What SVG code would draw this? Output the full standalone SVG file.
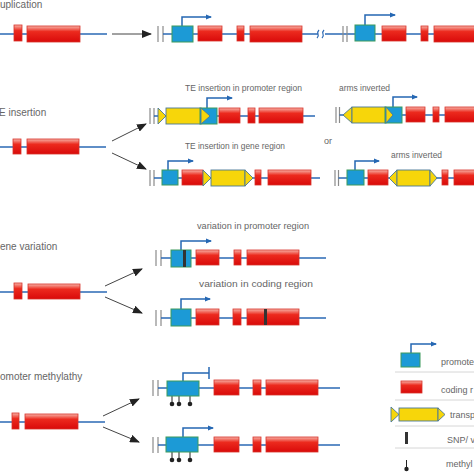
<svg xmlns="http://www.w3.org/2000/svg" width="474" height="474" viewBox="0 0 474 474">
<defs>
<linearGradient id="rg" x1="0" y1="0" x2="0" y2="1">
<stop offset="0" stop-color="#f7b3a8"/>
<stop offset="0.35" stop-color="#ec2a1e"/>
<stop offset="1" stop-color="#d90a0a"/>
</linearGradient>
<marker id="pa" viewBox="0 0 6 6" refX="5" refY="3" markerWidth="6" markerHeight="6" orient="auto" markerUnits="userSpaceOnUse"><path d="M0,0.5 L6,3 L0,5.5 Z" fill="#2567b3"/></marker>
<marker id="ba" viewBox="0 0 10 8" refX="9" refY="4" markerWidth="10" markerHeight="8" orient="auto" markerUnits="userSpaceOnUse"><path d="M0,0 L10,4 L0,8 Z" fill="#222"/></marker>
</defs>
<style>
.t{font-family:"Liberation Sans",Arial,sans-serif;fill:#666;}
.h{font-size:10px;}
.l{font-size:9px;}
.ln{stroke:#2a68b4;stroke-width:1.5;fill:none;}
.r{fill:url(#rg);stroke:#d8322a;stroke-width:0.8;}
.p{fill:#1c9ad6;stroke:#3c9a5c;stroke-width:1;}
.y{fill:#f7d60a;stroke:#4a7896;stroke-width:0.9;}
.b{stroke:#8a8a8a;stroke-width:1.2;}
.pr{stroke:#2567b3;stroke-width:1.5;fill:none;}
.ar{stroke:#444;stroke-width:1;fill:none;}
.sn{fill:#333;}
.sep{stroke:#ccc;stroke-width:0.8;}
</style>

<g id="titles">
<text class="t h" x="0" y="8">uplication</text>
<text class="t h" x="-1" y="116">E insertion</text>
<text class="t h" x="0" y="250">ene variation</text>
<text class="t h" x="0" y="380">omoter methylathy</text>
</g>

<g id="connectors">
<line class="ar" x1="112" y1="34" x2="151" y2="34" marker-end="url(#ba)"/>
<line class="ar" x1="112" y1="141" x2="146" y2="124" marker-end="url(#ba)"/>
<line class="ar" x1="112" y1="153" x2="146" y2="169" marker-end="url(#ba)"/>
<line class="ar" x1="105" y1="286" x2="142" y2="269" marker-end="url(#ba)"/>
<line class="ar" x1="105" y1="297" x2="142" y2="313" marker-end="url(#ba)"/>
<line class="ar" x1="103" y1="416" x2="139" y2="399" marker-end="url(#ba)"/>
<line class="ar" x1="103" y1="427" x2="139" y2="442" marker-end="url(#ba)"/>
</g>

<!-- Row 1 -->
<g id="dup-source">
<line class="ln" x1="0" y1="34" x2="107" y2="34"/>
<rect class="r" x="14" y="25" width="8" height="16"/>
<rect class="r" x="27" y="26" width="53" height="16"/>
</g>
<g id="dup-copies">
<line class="b" x1="158" y1="26" x2="158" y2="42"/>
<line class="b" x1="163" y1="26" x2="163" y2="42"/>
<line class="ln" x1="163" y1="34" x2="318" y2="34"/>
<line class="ln" x1="325" y1="34" x2="474" y2="34"/>
<path d="M317,38 q2,-2 1,-4 q-1,-2 1,-4 M322,38 q2,-2 1,-4 q-1,-2 1,-4" stroke="#2a68b4" stroke-width="1.2" fill="none"/>
<polyline class="pr" points="182,26 182,17 211,17" marker-end="url(#pa)"/>
<rect class="p" x="172" y="26" width="21" height="16"/>
<rect class="r" x="198" y="26" width="24" height="15"/>
<rect class="r" x="237" y="26" width="7" height="15"/>
<rect class="r" x="250" y="26" width="52" height="16"/>
<line class="b" x1="343" y1="26" x2="343" y2="42"/>
<line class="b" x1="347" y1="26" x2="347" y2="42"/>
<polyline class="pr" points="365,25 365,15 395,15" marker-end="url(#pa)"/>
<rect class="p" x="355" y="25" width="20" height="16"/>
<rect class="r" x="382" y="26" width="24" height="15"/>
<rect class="r" x="421" y="26" width="7" height="15"/>
<rect class="r" x="434" y="26" width="46" height="16"/>
</g>

<!-- Row 2 -->
<g id="te-source">
<line class="ln" x1="0" y1="147" x2="106" y2="147"/>
<rect class="r" x="13" y="139" width="8" height="15"/>
<rect class="r" x="27" y="139" width="52" height="15"/>
</g>
<g id="te-promoter">
<text class="t l" x="185" y="91" textLength="117" lengthAdjust="spacingAndGlyphs">TE insertion in promoter region</text>
<line class="b" x1="150" y1="108" x2="150" y2="124"/>
<line class="b" x1="154" y1="108" x2="154" y2="124"/>
<line class="ln" x1="154" y1="116" x2="315" y2="116"/>
<polyline class="pr" points="207,108 207,98 232,98" marker-end="url(#pa)"/>
<polygon class="y" points="158,108 166,116 158,124"/>
<rect class="y" x="166" y="108" width="35" height="16"/>
<rect class="p" x="200" y="108" width="17" height="16"/>
<polygon class="y" points="201,108 210,116 201,124"/>
<rect class="r" x="219" y="108" width="21" height="15"/>
<rect class="r" x="248" y="108" width="7" height="15"/>
<rect class="r" x="259" y="108" width="44" height="15"/>
</g>
<g id="te-gene">
<text class="t l" x="185" y="149" textLength="100" lengthAdjust="spacingAndGlyphs">TE insertion in gene region</text>
<line class="b" x1="150" y1="170" x2="150" y2="186"/>
<line class="b" x1="154" y1="170" x2="154" y2="186"/>
<line class="ln" x1="154" y1="178" x2="320" y2="178"/>
<polyline class="pr" points="168,170 168,161 193,161" marker-end="url(#pa)"/>
<rect class="p" x="162" y="170" width="16" height="15"/>
<rect class="r" x="182" y="170" width="21" height="15"/>
<polygon class="y" points="203,170 211,178 203,186"/>
<rect class="y" x="211" y="170" width="34" height="16"/>
<polygon class="y" points="245,170 253,178 245,186"/>
<rect class="r" x="255" y="170" width="6" height="15"/>
<rect class="r" x="268" y="170" width="43" height="15"/>
</g>
<text class="t l" x="324" y="144">or</text>
<g id="te-promoter-inv">
<text class="t l" x="339" y="91" textLength="51" lengthAdjust="spacingAndGlyphs">arms inverted</text>
<line class="b" x1="336" y1="107" x2="336" y2="123"/>
<line class="b" x1="339.5" y1="107" x2="339.5" y2="123"/>
<line class="ln" x1="339.5" y1="115" x2="474" y2="115"/>
<polyline class="pr" points="393,107 393,97 417,97" marker-end="url(#pa)"/>
<polygon class="y" points="352,107 343,115 352,123"/>
<rect class="y" x="352" y="107" width="34" height="16"/>
<rect class="p" x="385" y="107" width="17" height="16"/>
<polygon class="y" points="386,107 393,115 386,123"/>
<rect class="r" x="406" y="107" width="19" height="15"/>
<rect class="r" x="433" y="107" width="6" height="15"/>
<rect class="r" x="445" y="107" width="35" height="15"/>
</g>
<g id="te-gene-inv">
<text class="t l" x="391" y="158" textLength="51" lengthAdjust="spacingAndGlyphs">arms inverted</text>
<line class="b" x1="335" y1="170" x2="335" y2="186"/>
<line class="b" x1="338.5" y1="170" x2="338.5" y2="186"/>
<line class="ln" x1="338.5" y1="178" x2="474" y2="178"/>
<polyline class="pr" points="355,170 355,161 379,161" marker-end="url(#pa)"/>
<rect class="p" x="347" y="170" width="17" height="15"/>
<rect class="r" x="368" y="170" width="20" height="15"/>
<polygon class="y" points="397,170 389,178 397,186"/>
<rect class="y" x="397" y="170" width="33" height="16"/>
<polygon class="y" points="430,170 437,178 430,186"/>
<rect class="r" x="442" y="170" width="6" height="15"/>
<rect class="r" x="454" y="170" width="26" height="15"/>
</g>

<!-- Row 3 -->
<g id="var-source">
<line class="ln" x1="0" y1="292" x2="107" y2="292"/>
<rect class="r" x="14" y="283" width="8" height="16"/>
<rect class="r" x="28" y="284" width="52" height="15"/>
</g>
<g id="var-promoter">
<text class="t l" x="197" y="229" textLength="112" lengthAdjust="spacingAndGlyphs">variation in promoter region</text>
<line class="b" x1="156" y1="250" x2="156" y2="266"/>
<line class="b" x1="161" y1="250" x2="161" y2="266"/>
<line class="ln" x1="161" y1="258" x2="326" y2="258"/>
<polyline class="pr" points="181,250 181,241 211,241" marker-end="url(#pa)"/>
<rect class="p" x="171" y="250" width="20" height="17"/>
<rect class="sn" x="183" y="250" width="3" height="17"/>
<rect class="r" x="196" y="250" width="23" height="15"/>
<rect class="r" x="234" y="250" width="7" height="15"/>
<rect class="r" x="247" y="250" width="52" height="15"/>
</g>
<g id="var-coding">
<text class="t l" x="199" y="287" textLength="114" lengthAdjust="spacingAndGlyphs">variation in coding region</text>
<line class="b" x1="156" y1="310" x2="156" y2="326"/>
<line class="b" x1="161" y1="310" x2="161" y2="326"/>
<line class="ln" x1="161" y1="318" x2="326" y2="318"/>
<polyline class="pr" points="181,309 181,299 210,299" marker-end="url(#pa)"/>
<rect class="p" x="171" y="309" width="20" height="17"/>
<rect class="r" x="196" y="309" width="23" height="16"/>
<rect class="r" x="233" y="309" width="8" height="16"/>
<rect class="r" x="247" y="309" width="52" height="16"/>
<rect class="sn" x="264" y="309" width="3" height="16"/>
</g>

<!-- Row 4 -->
<g id="meth-source">
<line class="ln" x1="0" y1="422" x2="105" y2="422"/>
<rect class="r" x="12" y="413" width="7" height="16"/>
<rect class="r" x="25" y="414" width="53" height="15"/>
</g>
<g id="meth-repressed">
<line class="b" x1="153" y1="380" x2="153" y2="396"/>
<line class="b" x1="158" y1="380" x2="158" y2="396"/>
<line class="ln" x1="158" y1="388" x2="340" y2="388"/>
<polyline class="pr" points="183,381 183,373 209,373"/>
<line class="pr" x1="209" y1="367" x2="209" y2="379"/>
<g stroke="#222" stroke-width="1"><line x1="172" y1="396" x2="172" y2="403"/><line x1="179" y1="396" x2="179" y2="403"/><line x1="190" y1="396" x2="190" y2="403"/></g>
<g fill="#222"><circle cx="172" cy="404" r="2.3"/><circle cx="179" cy="404" r="2.3"/><circle cx="190" cy="404" r="2.3"/></g>
<rect class="p" x="167" y="381" width="32" height="15"/>
<rect class="r" x="214" y="380" width="25" height="15"/>
<rect class="r" x="253" y="380" width="8" height="15"/>
<rect class="r" x="266" y="380" width="52" height="15"/>
</g>
<g id="meth-active">
<line class="b" x1="153" y1="437" x2="153" y2="453"/>
<line class="b" x1="158" y1="437" x2="158" y2="453"/>
<line class="ln" x1="158" y1="445" x2="340" y2="445"/>
<polyline class="pr" points="183,437 183,428 213,428" marker-end="url(#pa)"/>
<g stroke="#222" stroke-width="1"><line x1="172" y1="452" x2="172" y2="459"/><line x1="179" y1="452" x2="179" y2="459"/><line x1="190" y1="452" x2="190" y2="459"/></g>
<g fill="#222"><circle cx="172" cy="460" r="2.3"/><circle cx="179" cy="460" r="2.3"/><circle cx="190" cy="460" r="2.3"/></g>
<rect class="p" x="166" y="437" width="32" height="15"/>
<rect class="r" x="214" y="437" width="25" height="15"/>
<rect class="r" x="253" y="437" width="8" height="15"/>
<rect class="r" x="266" y="437" width="52" height="15"/>
</g>

<!-- Legend -->
<g id="legend">
<polyline class="pr" points="411,353 411,344 436,344" marker-end="url(#pa)"/>
<rect class="p" x="401" y="353" width="19" height="14"/>
<text class="t l" x="441" y="365">promote</text>
<line class="sep" x1="395" y1="372" x2="474" y2="372"/>
<rect class="r" x="401" y="381" width="21" height="12"/>
<text class="t l" x="441" y="393">coding r</text>
<line class="sep" x1="395" y1="400" x2="474" y2="400"/>
<polygon class="y" points="391,407 399,414.5 391,422"/>
<rect class="y" x="399" y="408" width="39" height="13"/>
<polygon class="y" points="438,408 445,414.5 438,421"/>
<text class="t l" x="450" y="418">transp</text>
<line class="sep" x1="395" y1="426" x2="474" y2="426"/>
<rect class="sn" x="405" y="432" width="3" height="12"/>
<text class="t l" x="447" y="443">SNP/ v</text>
<line class="sep" x1="395" y1="448" x2="474" y2="448"/>
<line x1="406.5" y1="460" x2="406.5" y2="468" stroke="#222" stroke-width="1"/>
<circle cx="406.5" cy="469" r="2.2" fill="#222"/>
<text class="t l" x="446" y="467">methyl</text>
</g>
</svg>
